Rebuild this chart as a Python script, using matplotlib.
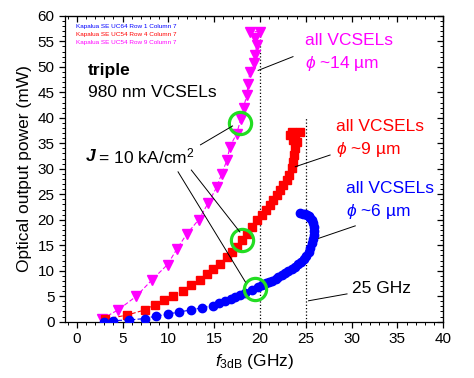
import numpy as np
import matplotlib
matplotlib.use('Agg')
import matplotlib.pyplot as plt
from matplotlib.ticker import MultipleLocator

plt.rcParams['font.family'] = ['Liberation Sans', 'DejaVu Sans']
plt.rcParams['mathtext.fontset'] = 'custom'
plt.rcParams['mathtext.rm'] = 'Liberation Sans'
plt.rcParams['mathtext.it'] = 'Liberation Sans:italic'
plt.rcParams['mathtext.bf'] = 'Liberation Sans:bold'

# phi ~14 um (magenta)
f14 = [2.7, 4.5, 6.5, 8.2, 9.9, 10.9, 12.0, 13.3, 14.35, 15.3, 15.8, 16.4, 16.7,
       17.45, 17.9, 18.2, 18.55, 18.7, 18.9, 19.3, 19.45, 19.65, 19.45, 18.9, 20.0]
p14 = [0.5, 2.3, 5.0, 8.2, 11.2, 14.2, 17.2, 20.0, 23.3, 26.5, 29.0, 31.7, 34.3,
       36.9, 39.7, 42.0, 44.4, 46.7, 49.0, 50.7, 52.3, 54.2, 55.6, 56.9, 56.9]

# phi ~9 um (red)
f9 = [3.1, 5.5, 7.4, 8.5, 9.5, 10.5, 11.55, 12.5, 13.45, 14.2, 14.9, 15.6, 16.35,
      16.9, 17.45, 18.0, 18.55, 19.1, 19.65, 20.2, 20.7, 21.1, 21.45, 21.8, 22.2,
      22.55, 22.9, 23.2, 23.45, 23.65, 23.75, 23.8, 24.0, 23.65, 23.8, 23.3, 23.45, 24.35]
p9 = [0.5, 1.3, 2.3, 3.3, 4.25, 5.0, 6.1, 7.1, 8.2, 9.3, 10.4, 11.4, 12.7,
      13.7, 14.7, 16.0, 17.3, 18.6, 19.9, 20.9, 21.9, 22.9, 23.9, 24.85, 25.8,
      26.8, 27.8, 28.8, 30.1, 31.4, 32.7, 34.0, 35.3, 35.6, 36.3, 36.6, 37.25, 37.25]

# phi ~6 um (blue)
f6 = [3.0, 4.0, 5.7, 7.4, 8.6, 9.9, 11.1, 12.5, 13.7, 14.9, 15.55, 16.2, 16.8, 17.3,
      17.8, 18.4, 19.1, 19.8, 20.2, 20.6, 21.0, 21.3, 21.7, 22.0, 22.4, 22.7, 23.1,
      23.5, 23.85, 24.2, 24.5, 24.75, 25.0, 25.3, 25.5, 25.65, 25.75, 25.85, 25.85,
      25.85, 25.8, 25.65, 25.5, 25.3, 25.1, 24.9, 24.65, 24.4]
p6 = [0.0, 0.2, 0.35, 0.6, 1.1, 1.45, 1.9, 2.3, 2.75, 3.15, 3.6, 4.0, 4.4, 4.9,
      5.2, 5.6, 6.2, 6.85, 7.2, 7.5, 7.8, 8.0, 8.35, 8.7, 9.1, 9.5, 9.9,
      10.3, 10.75, 11.25, 11.7, 12.2, 12.9, 13.7, 14.5, 15.4, 16.2, 17.0, 17.8,
      18.6, 19.3, 19.9, 20.3, 20.7, 20.95, 21.1, 21.2, 21.25]

# J = 10 kA/cm2 operating points (green circles)
fJ = [17.8, 18.05, 19.5]
pJ = [38.9, 16.0, 6.5]

legend_lines = ['Kapalua SE UC64 Row 1 Column 7',
                'Kapalua SE UC54 Row 4 Column 7',
                'Kapalua SE UC54 Row 9 Column 7']

MAG = '#ff00ff'
RED = '#ff0000'
BLUE = '#0000ff'
GREEN = '#22dd22'

fig = plt.figure(figsize=(4.74, 3.78), dpi=100)
ax = fig.add_axes([0.137, 0.149, 0.798, 0.809])

ax.plot(f14, p14, color=MAG, ls=(0, (4, 2)), lw=0.8, marker='v', ms=6.5,
        mfc=MAG, mec=MAG, zorder=3)
ax.plot(f9, p9, color=RED, ls=(0, (4, 2)), lw=0.8, marker='s', ms=5.5,
        mfc=RED, mec=RED, zorder=3)
ax.plot(f6, p6, color=BLUE, ls=(0, (4, 2)), lw=0.8, marker='o', ms=6,
        mfc=BLUE, mec=BLUE, zorder=3)
ax.plot(fJ, pJ, ls='none', marker='o', ms=16, mfc='none', mec=GREEN, mew=2.3, zorder=4)

# reference lines
ax.plot([20, 20], [0, 57], color='k', ls=':', lw=0.9, zorder=2)
ax.plot([25, 25], [0, 40], color='k', ls=':', lw=0.9, zorder=2)

# pointer lines
ptr = [((23.6, 52.0), (19.8, 49.3)),
       ((27.65, 32.7), (23.85, 30.4)),
       ((30.4, 18.8), (26.4, 16.35)),
       ((29.5, 5.45), (25.3, 4.1)),
       ((13.5, 34.7), (17.0, 38.4)),
       ((12.5, 29.75), (17.8, 17.6)),
       ((11.05, 29.4), (18.4, 7.8))]
for (x0, y0), (x1, y1) in ptr:
    ax.plot([x0, x1], [y0, y1], color='k', lw=0.7, zorder=5)

fs = 12.5
ax.text(24.9, 55.2, 'all VCSELs', color=MAG, fontsize=fs, va='center')
ax.text(24.9, 50.7, r'$\mathit{\phi}$ ~14 µm', color=MAG, fontsize=fs, va='center')
ax.text(28.3, 38.2, 'all VCSELs', color=RED, fontsize=fs, va='center')
ax.text(28.3, 33.7, r'$\mathit{\phi}$ ~9 µm', color=RED, fontsize=fs, va='center')
ax.text(29.4, 26.2, 'all VCSELs', color=BLUE, fontsize=fs, va='center')
ax.text(29.4, 21.6, r'$\mathit{\phi}$ ~6 µm', color=BLUE, fontsize=fs, va='center')
ax.text(30.0, 6.55, '25 GHz', color='k', fontsize=fs, va='center')
ax.text(1.2, 49.35, 'triple', color='k', fontsize=fs, fontweight='bold', va='center')
ax.text(1.2, 44.9, '980 nm VCSELs', color='k', fontsize=fs, va='center')
ax.text(1.0, 32.35, 'J', color='k', fontsize=fs, fontweight='bold', style='italic', va='center')
ax.annotate(' = 10 kA/cm$^2$', xy=(1.0, 32.35), xytext=(6, 0), textcoords='offset points',
            color='k', fontsize=fs, va='center')

for i, (txt, c) in enumerate(zip(legend_lines, [BLUE, RED, MAG])):
    ax.text(-0.1, 58.0 - 1.6 * i, txt, color=c, fontsize=4.6, va='center')

ax.set_xlim(-1.3, 40)
ax.set_ylim(0, 60)
ax.xaxis.set_major_locator(MultipleLocator(5))
ax.xaxis.set_minor_locator(MultipleLocator(1))
ax.yaxis.set_major_locator(MultipleLocator(5))
ax.yaxis.set_minor_locator(MultipleLocator(1))
ax.tick_params(which='major', direction='out', length=4, width=0.9, labelsize=11)
ax.tick_params(which='minor', direction='out', length=2, width=0.7)

secx = ax.secondary_xaxis('top')
secx.xaxis.set_major_locator(MultipleLocator(5))
secx.xaxis.set_minor_locator(MultipleLocator(1))
secx.tick_params(which='major', direction='in', length=4, width=0.9, labeltop=False)
secx.tick_params(which='minor', direction='in', length=2, width=0.7)
secy = ax.secondary_yaxis('right')
secy.yaxis.set_major_locator(MultipleLocator(5))
secy.yaxis.set_minor_locator(MultipleLocator(1))
secy.tick_params(which='major', direction='in', length=4, width=0.9, labelright=False)
secy.tick_params(which='minor', direction='in', length=2, width=0.7)

for s in ax.spines.values():
    s.set_linewidth(0.9)

ax.set_xlabel(r'$\mathit{f}_{\mathrm{3dB}}$ (GHz)', fontsize=12.5, labelpad=4)
ax.set_ylabel('Optical output power (mW)', fontsize=12.5, labelpad=4)

fig.savefig('out.png', dpi=100)
